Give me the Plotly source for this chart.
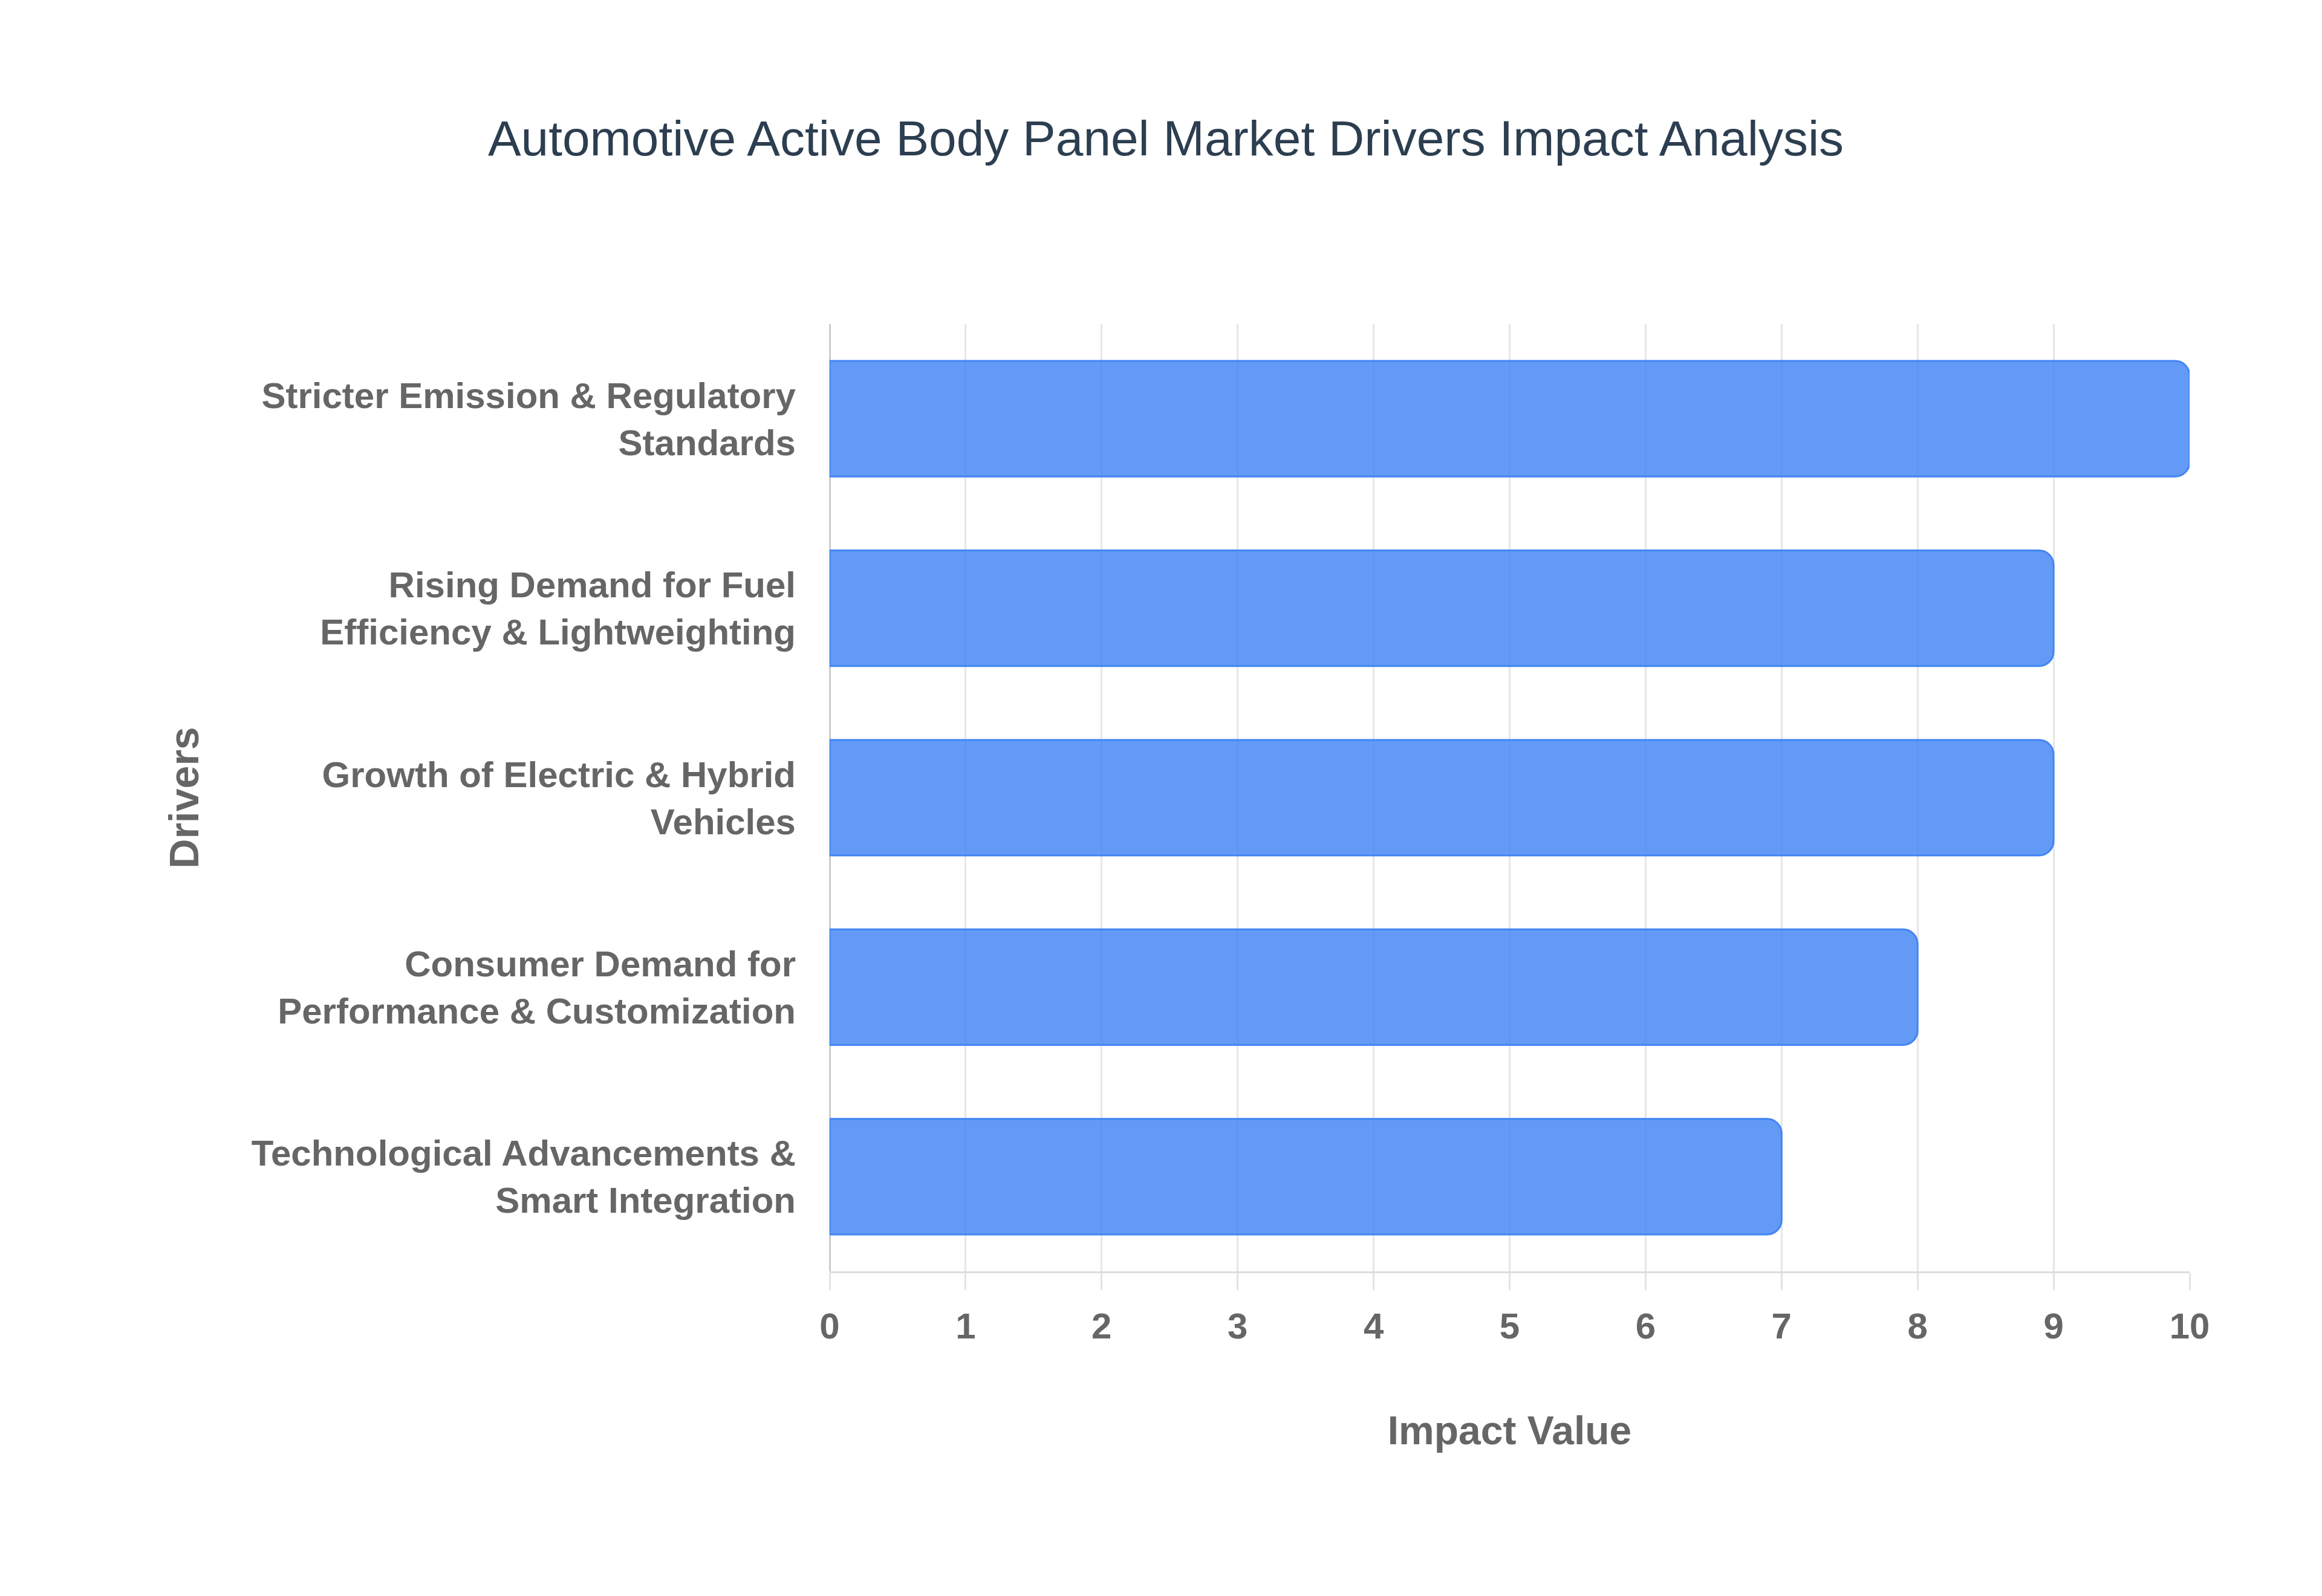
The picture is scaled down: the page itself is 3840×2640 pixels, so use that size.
import plotly.graph_objects as go

drivers = [
    "Stricter Emission & Regulatory<br>Standards",
    "Rising Demand for Fuel<br>Efficiency & Lightweighting",
    "Growth of Electric & Hybrid<br>Vehicles",
    "Consumer Demand for<br>Performance & Customization",
    "Technological Advancements &<br>Smart Integration",
]
impact = [10, 9, 9, 8, 7]
x_ticks = list(range(0, 11))

fig = go.Figure(
    go.Bar(
        x=impact,
        y=drivers,
        orientation="h",
        marker=dict(
            color="rgba(66,133,244,0.83)",
            line=dict(color="#4285F4", width=3),
            cornerradius=24,
        ),
        hoverinfo="skip",
    )
)

fig.update_layout(
    width=3840,
    height=2640,
    paper_bgcolor="white",
    plot_bgcolor="white",
    margin=dict(l=1364, r=227, t=528, b=545, autoexpand=False),
    bargap=0.39,
    showlegend=False,
    title=dict(
        text="Automotive Active Body Panel Market Drivers Impact Analysis",
        x=0.5,
        xanchor="center",
        y=1 - 220 / 2640,
        yanchor="middle",
        font=dict(family="Liberation Sans, Arial, sans-serif", size=82, color="#2c3e50"),
    ),
    xaxis=dict(
        range=[0, 10],
        tickvals=x_ticks,
        showgrid=True,
        gridcolor="#e6e6e6",
        gridwidth=2.5,
        showline=True,
        linecolor="#dddddd",
        linewidth=3,
        ticks="outside",
        ticklen=28,
        tickwidth=2.5,
        tickcolor="#e3e3e3",
        ticklabelstandoff=8,
        zeroline=True,
        zerolinecolor="#cccccc",
        zerolinewidth=3,
        tickfont=dict(family="Liberation Sans, Arial, sans-serif", size=60, color="#666666", weight="bold"),
        title=dict(
            text="Impact Value",
            standoff=117,
            font=dict(family="Liberation Sans, Arial, sans-serif", size=66, color="#666666", weight="bold"),
        ),
    ),
    yaxis=dict(
        autorange="reversed",
        showgrid=False,
        showline=False,
        zeroline=False,
        ticks="",
        ticklabelstandoff=55,
        tickfont=dict(family="Liberation Sans, Arial, sans-serif", size=60, color="#666666", weight="bold"),
        title=dict(
            text="Drivers",
            standoff=64,
            font=dict(family="Liberation Sans, Arial, sans-serif", size=68, color="#666666", weight="bold"),
        ),
    ),
)

fig.write_html("out.html")
